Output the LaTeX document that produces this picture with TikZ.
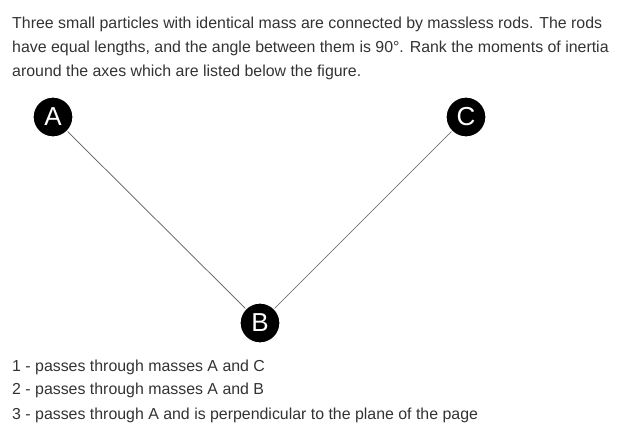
\documentclass[tikz,border=0pt]{standalone}
\usepackage{fontspec}
\setmainfont{Liberation Sans}
\definecolor{txt}{HTML}{333333}
\begin{document}
\begin{tikzpicture}[x=1pt,y=-1pt,
  line/.style={anchor=base west,inner sep=0pt,text=txt,font=\fontsize{15.9}{18}\selectfont},
  mass/.style={circle,fill=black,draw=white,line width=1.2pt,minimum size=40pt,inner sep=0pt,text=white,font=\fontsize{26}{26}\selectfont}]
\useasboundingbox (0,0) rectangle (625,441);
\node[line] (t1) at (12,29) {Three small particles with identical mass are connected by massless rods. The rods};
\node[line] (t2) at (12,53) {have equal lengths, and the angle between them is 90°. Rank the moments of inertia};
\node[line] (t3) at (12,77) {around the axes which are listed below the figure.};
\node[mass] (A) at (53,117) {A};
\node[mass] (C) at (466,117) {C};
\node[mass] (B) at (260,323) {B};
\draw[gray!70!black,line width=0.7pt] (A) -- (B) -- (C);
\node[line] (l1) at (12,371) {1 - passes through masses A and C};
\node[line] (l2) at (12,395) {2 - passes through masses A and B};
\node[line] (l3) at (12,419) {3 - passes through A and is perpendicular to the plane of the page};
\end{tikzpicture}
\end{document}
